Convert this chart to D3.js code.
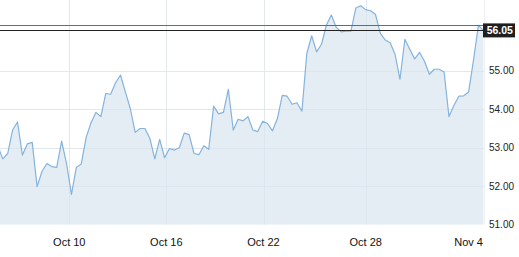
<!DOCTYPE html>
<html>
<head>
<meta charset="utf-8">
<script src="https://cdn.jsdelivr.net/npm/d3@7"></script>
<style>
  html, body { margin: 0; padding: 0; background: #fff; }
  svg { display: block; font-family: "Liberation Sans", Arial, sans-serif; }
</style>
</head>
<body>
<svg id="chart" width="519" height="257"></svg>
<script>
// ---- data ----
const prices = [
  53.04, 52.71, 52.85, 53.46, 53.67, 52.81, 53.10, 53.14, 51.99, 52.39,
  52.59, 52.51, 52.49, 53.17, 52.59, 51.79, 52.49, 52.58, 53.27, 53.65,
  53.92, 53.81, 54.41, 54.39, 54.69, 54.89, 54.45, 54.02, 53.40, 53.50,
  53.50, 53.24, 52.71, 53.22, 52.74, 52.98, 52.94, 53.00, 53.38, 53.34,
  52.85, 52.82, 53.05, 52.96, 54.08, 53.88, 53.92, 54.52, 53.46, 53.74,
  53.70, 53.81, 53.46, 53.42, 53.69, 53.63, 53.44, 53.76, 54.36, 54.34,
  54.13, 54.17, 53.95, 55.45, 55.91, 55.49, 55.69, 56.19, 56.45, 56.13,
  56.01, 56.03, 56.03, 56.63, 56.69, 56.59, 56.56, 56.47, 55.97, 55.80,
  55.73, 55.43, 54.78, 55.82, 55.56, 55.31, 55.48, 55.25, 54.91, 55.04,
  55.04, 54.97, 53.81, 54.10, 54.34, 54.35, 54.45, 55.28, 56.18, 56.05
];
const xTickLabels = ["Oct 10", "Oct 16", "Oct 22", "Oct 28", "Nov 4"];
const xTickIndex  = [14.56, 34.35, 54.17, 75.02, 99.14];
const yTicks = [51, 52, 53, 54, 55];
const xDomain = [0.43, 99.14];
const yDomain = [51, 56.84];
const lastPrice = 56.05;
const refLine = 56.2;

// ---- layout ----
const W = 519, H = 257;
const plotW = 484, plotH = 224.7;

const svg = d3.select("#chart");
const x = d3.scaleLinear().domain(xDomain).range([0, plotW]);
const y = d3.scaleLinear().domain(yDomain).range([plotH, 0]);

svg.append("defs").append("clipPath").attr("id", "clip")
  .append("rect").attr("x", 0).attr("y", 0).attr("width", plotW).attr("height", plotH);

const g = svg.append("g");

// horizontal gridlines
g.selectAll(".hg").data(yTicks.filter(d => d > yDomain[0])).enter().append("line")
  .attr("x1", 0).attr("x2", plotW)
  .attr("y1", d => Math.round(y(d)) + 0.5).attr("y2", d => Math.round(y(d)) + 0.5)
  .attr("stroke", "#eef0f2").attr("stroke-width", 1);

// vertical gridlines
g.selectAll(".vg").data(xTickIndex).enter().append("line")
  .attr("x1", d => Math.round(x(d)) + 0.5).attr("x2", d => Math.round(x(d)) + 0.5)
  .attr("y1", 0).attr("y2", plotH)
  .attr("stroke", "#eef0f2").attr("stroke-width", 1);

const plot = g.append("g").attr("clip-path", "url(#clip)");

// area
const area = d3.area()
  .x((d, i) => x(i))
  .y0(y(yDomain[0]))
  .y1(d => y(d));
plot.append("path").datum(prices)
  .attr("d", area)
  .attr("fill", "#dde8f1").attr("fill-opacity", 0.8);

// gridlines over the area (faint)
plot.selectAll(".hg2").data(yTicks.filter(d => d > yDomain[0])).enter().append("line")
  .attr("x1", 0).attr("x2", plotW)
  .attr("y1", d => Math.round(y(d)) + 0.5).attr("y2", d => Math.round(y(d)) + 0.5)
  .attr("stroke", "#d9e3ec").attr("stroke-opacity", 0.6);
plot.selectAll(".vg2").data(xTickIndex).enter().append("line")
  .attr("x1", d => Math.round(x(d)) + 0.5).attr("x2", d => Math.round(x(d)) + 0.5)
  .attr("y1", 0).attr("y2", plotH)
  .attr("stroke", "#d9e3ec").attr("stroke-opacity", 0.6);

// line
const line = d3.line().x((d, i) => x(i)).y(d => y(d));
plot.append("path").datum(prices)
  .attr("d", line)
  .attr("fill", "none")
  .attr("stroke", "#84b3dd").attr("stroke-width", 1.2)
  .attr("stroke-linejoin", "round");

// reference lines
g.append("line")
  .attr("x1", 0).attr("x2", plotW)
  .attr("y1", Math.round(y(refLine)) + 0.5).attr("y2", Math.round(y(refLine)) + 0.5)
  .attr("stroke", "#e0393b").attr("stroke-width", 1);
g.append("line")
  .attr("x1", 0).attr("x2", plotW)
  .attr("y1", Math.round(y(lastPrice)) + 0.5).attr("y2", Math.round(y(lastPrice)) + 0.5)
  .attr("stroke", "#222").attr("stroke-width", 1.2);

// y labels
g.selectAll(".yl").data(yTicks).enter().append("text")
  .attr("x", 489).attr("y", d => y(d))
  .attr("dy", "0.35em")
  .attr("font-size", 10).attr("fill", "#222")
  .text(d => d.toFixed(2));

// last price box
const by = y(lastPrice);
g.append("rect")
  .attr("x", plotW - 1).attr("y", by - 7).attr("width", 32).attr("height", 14)
  .attr("fill", "#1f1f1f");
g.append("text")
  .attr("x", 486.7).attr("y", by).attr("dy", "0.36em")
  .attr("font-size", 10.5).attr("font-weight", "bold").attr("fill", "#fff")
  .text(lastPrice.toFixed(2));

// x labels
const xl = g.selectAll(".xl").data(xTickLabels).enter().append("text")
  .attr("y", 241.7).attr("dy", "0.35em")
  .attr("font-size", 11).attr("fill", "#111")
  .attr("text-anchor", "middle")
  .text(d => d);
xl.each(function(d, i) {
  const w = this.getComputedTextLength();
  let cx = x(xTickIndex[i]);
  cx = Math.min(cx, plotW - w / 2 - 1);
  d3.select(this).attr("x", cx);
});
</script>
</body>
</html>
